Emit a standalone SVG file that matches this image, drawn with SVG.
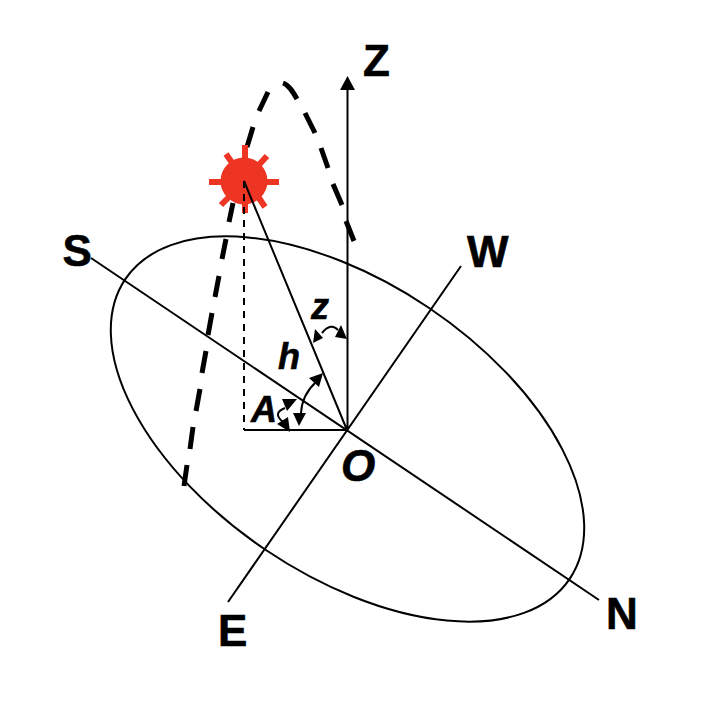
<svg xmlns="http://www.w3.org/2000/svg" width="718" height="724" viewBox="0 0 718 724">
<style>
.l{fill:none;stroke:#000;stroke-width:2}
.a{fill:none;stroke:#000;stroke-width:2}
.h{fill:#000;stroke:none}
.t{font-family:"Liberation Sans",Arial,sans-serif;font-weight:700;font-size:44px;fill:#000;stroke:#000;stroke-width:.6}
.i{font-style:italic;font-size:36px}
.r{stroke:#ee3524;stroke-width:6;fill:none}
</style>
<rect width="718" height="724" fill="#fff"/>
<g id="path-sun">
<path fill="none" stroke="#000" stroke-width="5" d="M184 486L187 465M190 449L193 427M196 411L200 389M202 373L206 351M208 335L212 313M215 297L219 276M222 259L226 239M229 222L233 203M247 147L253 127M259 111L268 92M283 83C289 85 293 92 297 99M305 113L315 133M321 148L328 168M333 184L342 205M346 221L354 241"/>
</g>
<g id="sun">
<circle cx="244" cy="181" r="23.500" fill="#ee3524"/>
<path class="r" d="M245 145V213M209 182H279M226 154L235 167M267 156L256 168M221 205L234 192M265 207L255 192"/>
</g>
<g id="connectors">
<ellipse class="l" cx="347.500" cy="429" rx="268" ry="146" transform="rotate(34 347.500 429)"/>
<path class="l" d="M91 258L599 600M461 266L228 602M347.500 85V430M244 181L347 430M244 430H347"/>
<path d="M244 181V430" fill="none" stroke="#000" stroke-width="2" stroke-dasharray="7 6"/>
<path class="h" d="M347.500 76L355 90H340Z"/>
<path class="a" d="M322 333Q331 322 338 330"/>
<path class="h" d="M313 343L315 329L323 338ZM347 339L341 325L335 337Z"/>
<path class="a" d="M301 413Q302 395 316 382"/>
<path class="h" d="M323 373L309 378L319 387ZM299 426L293 413L306 413Z"/>
<path class="a" d="M285 408Q272 413 283 422"/>
<path class="h" d="M297 399H282L287 411ZM290 432L277 424L288 417Z"/>
</g>
<g id="labels">
<text class="t" x="363" y="76">Z</text>
<text class="t" x="62.500" y="266">S</text>
<text class="t" x="467" y="267">W</text>
<text class="t" x="606" y="629">N</text>
<text class="t" x="218" y="646">E</text>
<text class="t i" x="341" y="481" style="font-size:44px">O</text>
<text class="t i" x="311" y="319">z</text>
<text class="t i" x="278" y="369">h</text>
<text class="t i" x="251" y="422">A</text>
</g>
</svg>
